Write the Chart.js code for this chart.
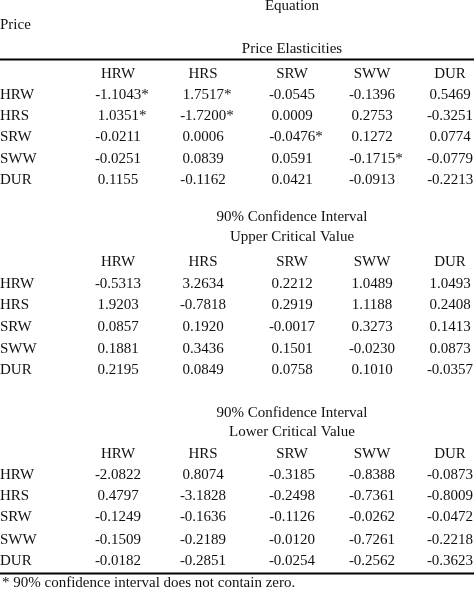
<!DOCTYPE html>
<html><head><meta charset="utf-8">
<script src="https://cdn.jsdelivr.net/npm/chart.js@4"></script>
<style>html,body{margin:0;padding:0;background:#fff}#w{width:474px;height:591px}</style>
</head><body><div id="w"><canvas id="c"></canvas></div>
<script>
const colLabels = ["HRW","HRS","SRW","SWW","DUR"];
const rowLabels = ["HRW","HRS","SRW","SWW","DUR"];
const elasticities = [
 ["-1.1043*","1.7517*","-0.0545","-0.1396","0.5469"],
 ["1.0351*","-1.7200*","0.0009","0.2753","-0.3251"],
 ["-0.0211","0.0006","-0.0476*","0.1272","0.0774"],
 ["-0.0251","0.0839","0.0591","-0.1715*","-0.0779"],
 ["0.1155","-0.1162","0.0421","-0.0913","-0.2213*"]];
const upper = [
 ["-0.5313","3.2634","0.2212","1.0489","1.0493"],
 ["1.9203","-0.7818","0.2919","1.1188","0.2408"],
 ["0.0857","0.1920","-0.0017","0.3273","0.1413"],
 ["0.1881","0.3436","0.1501","-0.0230","0.0873"],
 ["0.2195","0.0849","0.0758","0.1010","-0.0357"]];
const lower = [
 ["-2.0822","0.8074","-0.3185","-0.8388","-0.0873"],
 ["0.4797","-3.1828","-0.2498","-0.7361","-0.8009"],
 ["-0.1249","-0.1636","-0.1126","-0.0262","-0.0472"],
 ["-0.1509","-0.2189","-0.0120","-0.7261","-0.2218"],
 ["-0.0182","-0.2851","-0.0254","-0.2562","-0.3623"]];
const footnote = "* 90% confidence interval does not contain zero.";

const colX=[118,203,292,372,450];
const blocks=[
 {titles:["Price Elasticities"],titleY:[49],headY:74,rows:[95,116,137,159,180],data:elasticities},
 {titles:["90% Confidence Interval","Upper Critical Value"],titleY:[217,237],headY:262,rows:[284,305,327,349,370],data:upper},
 {titles:["90% Confidence Interval","Lower Critical Value"],titleY:[413,432],headY:454,rows:[475,496,517,540,561],data:lower}];

const texts=[];
texts.push({t:"Equation",x:292,y:6,a:"center"});
texts.push({t:"Price",x:0,y:25,a:"left"});
blocks.forEach(b=>{
 b.titles.forEach((t,i)=>texts.push({t,x:292,y:b.titleY[i],a:"center"}));
 colLabels.forEach((c,j)=>texts.push({t:c,x:colX[j],y:b.headY,a:"center"}));
 rowLabels.forEach((r,i)=>{
  texts.push({t:r,x:0,y:b.rows[i],a:"left"});
  b.data[i].forEach((v,j)=>{
   const star=v.endsWith("*");
   texts.push({t:v,x:colX[j]+(star?4:0),y:b.rows[i],a:"center"});
  });
 });
});
texts.push({t:footnote,x:2,y:583,a:"left"});

const textPlugin={id:"txt",afterDatasetsDraw(ch){
 const {ctx,scales:{x,y}}=ch;ctx.save();
 ctx.fillStyle="#111";ctx.font='15px "Liberation Serif"';ctx.textBaseline="middle";
 texts.forEach(o=>{ctx.textAlign=o.a;ctx.fillText(o.t,x.getPixelForValue(o.x),y.getPixelForValue(o.y));});
 ctx.restore();}};

new Chart(document.getElementById("c"),{
 type:"scatter",
 data:{datasets:[
  {data:[{x:0,y:59.5},{x:474,y:59.5}],showLine:true,borderColor:"#000",borderWidth:2,pointRadius:0},
  {data:[{x:0,y:573.5},{x:474,y:573.5}],showLine:true,borderColor:"#000",borderWidth:2,pointRadius:0}]},
 options:{responsive:true,maintainAspectRatio:false,animation:false,
  layout:{padding:0},
  plugins:{legend:{display:false},tooltip:{enabled:false}},
  scales:{x:{type:"linear",min:0,max:474,display:false},
          y:{type:"linear",min:0,max:591,reverse:true,display:false}}},
 plugins:[textPlugin]});
</script></body></html>
